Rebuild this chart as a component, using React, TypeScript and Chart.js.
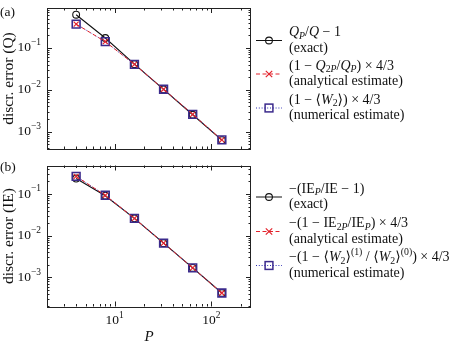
import React, { useEffect, useRef } from 'react';
import { Chart, registerables } from 'chart.js';
Chart.register(...registerables);

// ---------- data ----------
const P = [4, 8, 16, 32, 64, 128];
const qExact = [0.62, 0.172, 0.041, 0.0102, 0.00254, 0.00063];
const qAnalytical = [0.37, 0.141, 0.0405, 0.0103, 0.0026, 0.00064];
const qNumerical = [0.37, 0.141, 0.0405, 0.0103, 0.0026, 0.00064];
const ieExact = [0.235, 0.091, 0.026, 0.0066, 0.00168, 0.00042];
const ieAnalytical = [0.265, 0.093, 0.026, 0.0066, 0.00168, 0.00042];
const ieNumerical = [0.265, 0.093, 0.026, 0.0066, 0.00168, 0.00042];
const xTickDecades = [1, 2];
const yTickDecades = [-1, -2, -3];

const FAMILY = '"Liberation Serif", "DejaVu Serif", serif';
const BLACK = '#111';
const RED = '#e3232c';
const BLUE = '#2f2fb5';
const SQUARE = '#3b2a8c';
const LEG_SIZE = 14;

type Seg = { t: string; i?: boolean; s?: 'b' | 'p' };

const legendQ: Seg[][][] = [
  [[{ t: 'Q', i: true }, { t: 'P', i: true, s: 'b' }, { t: '/' }, { t: 'Q', i: true }, { t: ' − 1' }], [{ t: '(exact)' }]],
  [[{ t: '(1 − ' }, { t: 'Q', i: true }, { t: '2', s: 'b' }, { t: 'P', i: true, s: 'b' }, { t: '/' }, { t: 'Q', i: true }, { t: 'P', i: true, s: 'b' }, { t: ') × 4/3' }], [{ t: '(analytical estimate)' }]],
  [[{ t: '(1 − ⟨' }, { t: 'W', i: true }, { t: '2', s: 'b' }, { t: '⟩) × 4/3' }], [{ t: '(numerical estimate)' }]],
];
const legendIE: Seg[][][] = [
  [[{ t: '−(IE' }, { t: 'P', i: true, s: 'b' }, { t: '/IE − 1)' }], [{ t: '(exact)' }]],
  [[{ t: '−(1 − IE' }, { t: '2', s: 'b' }, { t: 'P', i: true, s: 'b' }, { t: '/IE' }, { t: 'P', i: true, s: 'b' }, { t: ') × 4/3' }], [{ t: '(analytical estimate)' }]],
  [[{ t: '−(1 − ⟨' }, { t: 'W', i: true }, { t: '2', s: 'b' }, { t: '⟩' }, { t: '(1)', s: 'p' }, { t: ' / ⟨' }, { t: 'W', i: true }, { t: '2', s: 'b' }, { t: '⟩' }, { t: '(0)', s: 'p' }, { t: ') × 4/3' }], [{ t: '(numerical estimate)' }]],
];

function fontFor(seg: Seg, size: number) {
  const sz = seg.s ? size * 0.7 : size;
  return `${seg.i ? 'italic ' : ''}${sz}px ${FAMILY}`;
}

function drawRich(ctx: CanvasRenderingContext2D, x: number, y: number, segs: Seg[], size: number, align: 'left' | 'center' | 'right' = 'left') {
  let w = 0;
  for (const s of segs) {
    ctx.font = fontFor(s, size);
    w += ctx.measureText(s.t).width;
  }
  let cx = align === 'left' ? x : align === 'center' ? x - w / 2 : x - w;
  ctx.textBaseline = 'middle';
  ctx.textAlign = 'left';
  for (const s of segs) {
    ctx.font = fontFor(s, size);
    const dy = s.s === 'b' ? size * 0.28 : s.s === 'p' ? -size * 0.38 : 0;
    ctx.fillText(s.t, cx, y + dy);
    cx += ctx.measureText(s.t).width;
  }
}

function drawMarker(ctx: CanvasRenderingContext2D, kind: string, x: number, y: number) {
  ctx.save();
  ctx.setLineDash([]);
  if (kind === 'circle') {
    ctx.strokeStyle = BLACK; ctx.lineWidth = 1.1;
    ctx.beginPath(); ctx.arc(x, y, 3.4, 0, Math.PI * 2); ctx.stroke();
  } else if (kind === 'cross') {
    ctx.strokeStyle = RED; ctx.lineWidth = 1.2;
    const r = 3.2;
    ctx.beginPath(); ctx.moveTo(x - r, y - r); ctx.lineTo(x + r, y + r); ctx.moveTo(x - r, y + r); ctx.lineTo(x + r, y - r); ctx.stroke();
  } else {
    ctx.strokeStyle = SQUARE; ctx.lineWidth = 1.5;
    ctx.strokeRect(x - 3.9, y - 3.9, 7.8, 7.8);
  }
  ctx.restore();
}

const panelPlugin = {
  id: 'panelDeco',
  afterDraw(chart: any) {
    const o = chart.options.plugins.panelDeco;
    const ctx: CanvasRenderingContext2D = chart.ctx;
    const { left, right, top, bottom } = chart.chartArea;
    const xs = chart.scales.x;
    const ys = chart.scales.y;
    ctx.save();
    ctx.fillStyle = BLACK;
    ctx.strokeStyle = '#222';
    ctx.lineWidth = 1;
    ctx.setLineDash([]);
    // frame
    ctx.strokeRect(Math.round(left) + 0.5, Math.round(top) + 0.5, Math.round(right - left) - 1, Math.round(bottom - top));
    // ticks
    ctx.beginPath();
    for (let n = -5; n <= 1; n++) {
      for (let m = 1; m <= 9; m++) {
        const v = m * Math.pow(10, n);
        if (v <= ys.min || v >= ys.max) continue;
        const py = Math.round(ys.getPixelForValue(v)) + 0.5;
        const len = m === 1 ? 5 : 2.5;
        ctx.moveTo(left, py); ctx.lineTo(left + len, py);
        ctx.moveTo(right, py); ctx.lineTo(right - len, py);
      }
    }
    for (let n = 0; n <= 3; n++) {
      for (let m = 1; m <= 9; m++) {
        const v = m * Math.pow(10, n);
        if (v <= xs.min || v >= xs.max) continue;
        const px = Math.round(xs.getPixelForValue(v)) + 0.5;
        const len = m === 1 ? 5 : 2.5;
        ctx.moveTo(px, bottom); ctx.lineTo(px, bottom - len);
        ctx.moveTo(px, top); ctx.lineTo(px, top + len);
      }
    }
    ctx.stroke();
    // y tick labels
    for (const d of yTickDecades) {
      const py = ys.getPixelForValue(Math.pow(10, d));
      drawRich(ctx, left - 6, py, [{ t: '10' }, { t: '−' + Math.abs(d), s: 'p' }], 13.5, 'right');
    }
    if (o.showX) {
      for (const d of xTickDecades) {
        const px = xs.getPixelForValue(Math.pow(10, d));
        drawRich(ctx, px, bottom + 14, [{ t: '10' }, { t: String(d), s: 'p' }], 13.5, 'center');
      }
      drawRich(ctx, (left + right) / 2, bottom + 31, [{ t: 'P', i: true }], 15, 'center');
    }
    // y title
    ctx.save();
    ctx.translate(8.5, (top + bottom) / 2);
    ctx.rotate(-Math.PI / 2);
    drawRich(ctx, 0, 0, [{ t: o.yTitle }], 15.5, 'center');
    ctx.restore();
    // panel label
    drawRich(ctx, 0, o.labelY, [{ t: o.label }], 13.5, 'left');
    // legend
    const styles = [
      { color: BLACK, dash: [] as number[], marker: 'circle' },
      { color: RED, dash: [4, 2.5], marker: 'cross' },
      { color: BLUE, dash: [1, 1.8], marker: 'square' },
    ];
    o.legend.forEach((entry: Seg[][], k: number) => {
      const my = o.legendY[k];
      const st = styles[k];
      ctx.save();
      ctx.strokeStyle = st.color; ctx.lineWidth = 1; ctx.setLineDash(st.dash);
      ctx.beginPath(); ctx.moveTo(256, my + 0.5); ctx.lineTo(282, my + 0.5); ctx.stroke();
      ctx.restore();
      drawMarker(ctx, st.marker, 269, my + 0.5);
      ctx.fillStyle = BLACK;
      drawRich(ctx, 289, my - 7.5, entry[0], LEG_SIZE, 'left');
      drawRich(ctx, 289, my + 8, entry[1], LEG_SIZE, 'left');
    });
    ctx.restore();
  },
};

function makeConfig(exact: number[], analytical: number[], numerical: number[], yMin: number, yMax: number, padTop: number, xHeight: number, deco: any) {
  const pts = (vals: number[]) => P.map((p, i) => ({ x: p, y: vals[i] }));
  return {
    type: 'line' as const,
    data: {
      datasets: [
        {
          label: 'exact', data: pts(exact), borderColor: BLACK, borderWidth: 1.1,
          pointStyle: 'circle', pointRadius: 3.4, pointBorderColor: BLACK, pointBorderWidth: 1.1,
          pointBackgroundColor: 'rgba(0,0,0,0)', tension: 0, order: 3,
        },
        {
          label: 'numerical', data: pts(numerical), borderColor: BLUE, borderWidth: 1, borderDash: [1, 1.8],
          pointStyle: 'rect', pointRadius: 5.5, pointBorderColor: SQUARE, pointBorderWidth: 1.6,
          pointBackgroundColor: 'rgba(0,0,0,0)', tension: 0, order: 2,
        },
        {
          label: 'analytical', data: pts(analytical), borderColor: RED, borderWidth: 1, borderDash: [4, 2.5],
          pointStyle: 'crossRot', pointRadius: 3.5, pointBorderColor: RED, pointBorderWidth: 1.2,
          pointBackgroundColor: RED, tension: 0, order: 1,
        },
      ],
    },
    options: {
      animation: false,
      responsive: false,
      maintainAspectRatio: false,
      events: [],
      layout: { padding: { top: padTop, right: 474 - 251, bottom: 0, left: 0 } },
      plugins: { legend: { display: false }, tooltip: { enabled: false }, panelDeco: deco },
      scales: {
        x: {
          type: 'logarithmic', min: 2, max: 256,
          grid: { display: false, drawTicks: false }, border: { display: false },
          ticks: { display: false },
          afterFit: (s: any) => { s.height = xHeight; },
        },
        y: {
          type: 'logarithmic', min: yMin, max: yMax,
          grid: { display: false, drawTicks: false }, border: { display: false },
          ticks: { display: false },
          afterFit: (s: any) => { s.width = 47; },
        },
      },
    },
    plugins: [panelPlugin],
  };
}

function Panel(props: { cfg: any; top: number; height: number }) {
  const ref = useRef<HTMLCanvasElement | null>(null);
  useEffect(() => {
    if (!ref.current) return;
    const chart = new Chart(ref.current, props.cfg);
    return () => chart.destroy();
  }, []);
  return (
    <canvas
      ref={ref}
      width={474}
      height={props.height}
      style={{ position: 'absolute', left: 0, top: props.top, width: 474, height: props.height }}
    />
  );
}

export default function App() {
  const cfgA = makeConfig(qExact, qAnalytical, qNumerical, 3.87e-4, 0.896, 8, 9, {
    label: '(a)', labelY: 12, yTitle: 'discr. error (Q)', showX: false, legend: legendQ, legendY: [40, 73.5, 107.5],
  });
  const cfgB = makeConfig(ieExact, ieAnalytical, ieNumerical, 1.99e-4, 0.483, 7.5, 48.5, {
    label: '(b)', labelY: 9, yTitle: 'discr. error (IE)', showX: true, legend: legendIE, legendY: [38.5, 73, 107],
  });
  return (
    <div style={{ position: 'absolute', left: 0, top: 0, width: 474, height: 355, background: '#fff' }}>
      <Panel cfg={cfgA} top={0} height={158} />
      <Panel cfg={cfgB} top={158} height={197} />
    </div>
  );
}
